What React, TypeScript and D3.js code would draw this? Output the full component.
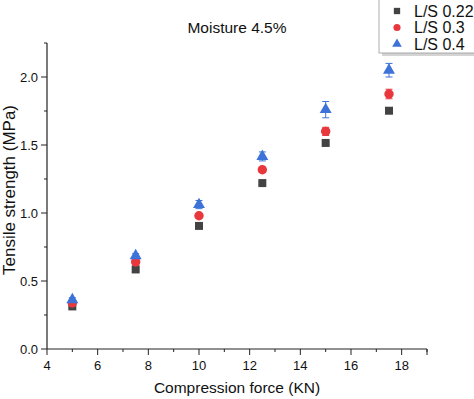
import React from "react";
import * as d3 from "d3";

const force = [5, 7.5, 10, 12.5, 15, 17.5];
const ls022 = [0.313, 0.585, 0.905, 1.22, 1.515, 1.752];
const ls03 = [0.338, 0.64, 0.98, 1.318, 1.6, 1.875];
const ls04 = [0.362, 0.686, 1.062, 1.416, 1.76, 2.05];
const err022 = [0.01, 0.01, 0.01, 0.01, 0.01, 0.01];
const err03 = [0.015, 0.015, 0.015, 0.02, 0.03, 0.035];
const err04 = [0.015, 0.015, 0.03, 0.033, 0.06, 0.05];
const xTicks = [4, 6, 8, 10, 12, 14, 16, 18];
const yTicks = [0, 0.5, 1.0, 1.5, 2.0];

const series = [
  { name: "L/S 0.22", values: ls022, err: err022, color: "#434343", shape: d3.symbolSquare, size: 64 },
  { name: "L/S 0.3", values: ls03, err: err03, color: "#e8383d", shape: d3.symbolCircle, size: 70 },
  { name: "L/S 0.4", values: ls04, err: err04, color: "#3d72d9", shape: d3.symbolTriangle, size: 62 },
];

const W = 474;
const H = 399;
const margin = { left: 47, right: 47, top: 43, bottom: 50 };
const font = "Arial, 'Liberation Sans', sans-serif";

export default function App() {
  const x = d3.scaleLinear().domain([4, 19]).range([margin.left, W - margin.right]);
  const y = d3.scaleLinear().domain([0, 2.25]).range([H - margin.bottom, margin.top]);
  const x0 = x(4);
  const y0 = y(0);
  const xMinor = d3.range(5, 20, 2);
  const yMinor = d3.range(0.25, 2.5, 0.5);

  return (
    <svg
      width={W}
      height={H}
      style={{ position: "absolute", left: 0, top: 0, background: "#fff" }}
      fontFamily={font}
    >
      <text x={237} y={33} textAnchor="middle" fontSize={15.5} fill="#111">
        Moisture 4.5%
      </text>

      {/* axes */}
      <line x1={x0} x2={x0} y1={y(2.25)} y2={y0} stroke="#222" strokeWidth={1.2} />
      <line x1={x0} x2={x(19)} y1={y0} y2={y0} stroke="#222" strokeWidth={1.2} />
      {yTicks.map((t) => (
        <g key={"y" + t}>
          <line x1={x0 - 6} x2={x0} y1={y(t)} y2={y(t)} stroke="#222" />
          <text x={x0 - 9} y={y(t) + 4.5} textAnchor="end" fontSize={13} fill="#111">
            {t.toFixed(1)}
          </text>
        </g>
      ))}
      {yMinor.map((t) => (
        <line key={"ym" + t} x1={x0 - 3} x2={x0} y1={y(t)} y2={y(t)} stroke="#222" />
      ))}
      {xTicks.map((t) => (
        <g key={"x" + t}>
          <line x1={x(t)} x2={x(t)} y1={y0} y2={y0 + 6} stroke="#222" />
          <text x={x(t)} y={y0 + 21} textAnchor="middle" fontSize={13} fill="#111">
            {t}
          </text>
        </g>
      ))}
      {xMinor.map((t) => (
        <line key={"xm" + t} x1={x(t)} x2={x(t)} y1={y0} y2={y0 + 3} stroke="#222" />
      ))}
      <line x1={x(19)} x2={x(19)} y1={y0} y2={y0 + 6} stroke="#222" />

      <text x={237} y={393} textAnchor="middle" fontSize={15.5} fill="#111">
        Compression force (KN)
      </text>
      <text
        transform={`translate(15,190) rotate(-90)`}
        textAnchor="middle"
        fontSize={17}
        fill="#111"
      >
        Tensile strength (MPa)
      </text>

      {/* points */}
      {series.map((s) => (
        <g key={s.name}>
          {s.values.map((v, i) => (
            <g key={i}>
              <line x1={x(force[i])} x2={x(force[i])} y1={y(v - s.err[i])} y2={y(v + s.err[i])} stroke={s.color} />
              <line x1={x(force[i]) - 3.5} x2={x(force[i]) + 3.5} y1={y(v + s.err[i])} y2={y(v + s.err[i])} stroke={s.color} />
              <line x1={x(force[i]) - 3.5} x2={x(force[i]) + 3.5} y1={y(v - s.err[i])} y2={y(v - s.err[i])} stroke={s.color} />
              <path
                d={d3.symbol().type(s.shape).size(s.size)() || ""}
                transform={`translate(${x(force[i])},${y(v)})`}
                fill={s.color}
              />
            </g>
          ))}
        </g>
      ))}

      {/* legend */}
      <rect x={382} y={-5} width={100} height={61} fill="#aaa" opacity={0.5} />
      <rect x={379} y={-8} width={100} height={61} fill="#fff" stroke="#999" strokeWidth={0.8} />
      {series.map((s, i) => (
        <g key={"lg" + s.name}>
          <path
            d={d3.symbol().type(s.shape).size(40)() || ""}
            transform={`translate(397,${11 + i * 16.5})`}
            fill={s.color}
          />
          <text x={414} y={16.5 + i * 16.5} fontSize={16} fill="#111">
            {s.name}
          </text>
        </g>
      ))}
    </svg>
  );
}
